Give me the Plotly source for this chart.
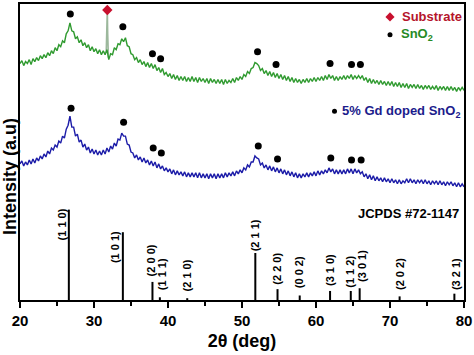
import plotly.graph_objects as go

# ---------------- data ----------------
two_theta = [20 + 0.25 * i for i in range(241)]   # sampling grid, 20..80 deg

green_y = [
    238, 241, 236, 240, 238, 242, 237, 243,
    240, 244, 241, 246, 243, 247, 244, 249,
    246, 251, 248, 254, 251, 257, 255, 261,
    259, 268, 271, 279, 271, 270, 263, 265,
    259, 262, 256, 259, 254, 257, 251, 255,
    250, 253, 248, 252, 247, 251, 247, 252,
    242, 248, 247, 254, 252, 258, 257, 263,
    260, 264, 256, 255, 248, 247, 242, 244,
    239, 242, 237, 240, 235, 239, 234, 238,
    233, 237, 231, 234, 229, 233, 227, 229,
    225, 228, 223, 227, 222, 226, 221, 225,
    221, 225, 220, 224, 220, 225, 220, 224,
    219, 224, 220, 223, 219, 223, 218, 223,
    219, 222, 218, 222, 218, 222, 217, 222,
    218, 221, 219, 223, 219, 224, 221, 225,
    222, 227, 225, 230, 228, 233, 234, 239,
    238, 236, 231, 233, 228, 231, 226, 230,
    225, 229, 224, 228, 223, 227, 222, 226,
    221, 225, 220, 224, 219, 223, 219, 222,
    218, 222, 219, 223, 219, 223, 220, 224,
    220, 224, 221, 225, 221, 226, 222, 227,
    223, 226, 221, 225, 221, 225, 222, 226,
    222, 226, 223, 227, 222, 226, 223, 226,
    223, 226, 221, 224, 219, 223, 218, 222,
    218, 221, 217, 221, 217, 220, 216, 220,
    216, 220, 215, 219, 215, 219, 214, 218,
    214, 218, 213, 217, 214, 217, 213, 217,
    213, 216, 212, 216, 213, 216, 212, 215,
    212, 216, 211, 215, 212, 215, 211, 215,
    211, 215, 211, 214, 210, 214, 211, 214,
    211,
]

blue_y = [
    137, 140, 135, 139, 136, 141, 137, 142,
    138, 143, 140, 145, 142, 147, 144, 150,
    147, 153, 151, 156, 154, 160, 158, 165,
    163, 172, 176, 185, 174, 174, 165, 167,
    159, 161, 154, 157, 151, 154, 148, 152,
    147, 151, 146, 150, 146, 151, 147, 153,
    149, 155, 152, 158, 155, 162, 161, 168,
    165, 165, 157, 156, 149, 148, 143, 146,
    141, 144, 139, 143, 138, 141, 136, 140,
    135, 139, 133, 137, 132, 135, 130, 133,
    129, 132, 127, 131, 126, 130, 126, 129,
    125, 129, 124, 128, 124, 128, 124, 128,
    123, 128, 123, 127, 123, 127, 122, 127,
    123, 127, 122, 127, 123, 127, 123, 128,
    124, 128, 125, 129, 125, 130, 127, 131,
    128, 133, 131, 136, 134, 139, 139, 145,
    143, 142, 136, 138, 133, 136, 131, 135,
    130, 134, 129, 133, 128, 132, 127, 131,
    126, 130, 125, 129, 124, 128, 123, 127,
    123, 127, 124, 128, 124, 128, 125, 129,
    125, 130, 126, 130, 127, 131, 128, 133,
    129, 132, 127, 131, 127, 131, 127, 131,
    127, 132, 128, 132, 127, 132, 128, 131,
    127, 129, 124, 127, 122, 126, 121, 125,
    120, 124, 120, 123, 119, 123, 119, 122,
    118, 122, 118, 121, 117, 121, 117, 120,
    118, 122, 118, 122, 118, 121, 117, 121,
    118, 121, 117, 121, 117, 120, 116, 120,
    117, 120, 116, 120, 116, 119, 115, 119,
    116, 119, 115, 118, 114, 118, 114, 117,
    114,
]

substrate_peak_x = [31.65, 31.75, 31.8, 31.85, 31.95]
substrate_peak_y = [249, 270, 292, 268, 244]

green_dot_x = [26.8, 33.9, 37.9, 39.0, 52.1, 54.6, 61.9, 64.8, 66.0]
green_dot_y = [288, 275, 248, 243, 250, 237, 238, 237, 237]
blue_dot_x = [26.9, 34.0, 38.0, 39.1, 52.2, 54.8, 62.0, 64.8, 66.1]
blue_dot_y = [193, 179, 153, 148, 155, 142, 143, 141, 141]

substrate_x = [31.8]
substrate_y = [292]

jcpds_pos = [26.6, 33.9, 37.9, 38.9, 42.6, 51.8, 54.8, 57.8, 61.9, 64.7, 65.9, 71.3, 78.7]
jcpds_int = [100, 75, 20, 3, 2, 52, 12, 5, 10, 10, 13, 4, 7]
jcpds_hkl = ["(1 1 0)", "(1 0 1)", "(2 0 0)", "(1 1 1)", "(2 1 0)", "(2 1 1)", "(2 2 0)",
             "(0 0 2)", "(3 1 0)", "(1 1 2)", "(3 0 1)", "(2 0 2)", "(3 2 1)"]

x_ticks = [20, 30, 40, 50, 60, 70, 80]

# ---------------- style ----------------
GREEN = "#2f9a2f"
BLUE = "#1c1ca8"
RED = "#c8102e"
FONT = "Liberation Sans, Arial, sans-serif"
stick_scale = 0.91
label_shift = [(-7, -15), (-8, -15), (-2, 22), (2, 23), (0, 23), (0, 18), (0, 20),
               (0, 23), (0, 21), (-1, 19), (3, 22), (1, 22), (1, 20)]

fig = go.Figure()

fig.add_trace(go.Scatter(x=substrate_peak_x, y=substrate_peak_y, mode="lines",
                         line=dict(color="#9cb89c", width=1.6), hoverinfo="skip"))
fig.add_trace(go.Scatter(x=two_theta, y=green_y, mode="lines",
                         line=dict(color=GREEN, width=1.4), hoverinfo="skip"))
fig.add_trace(go.Scatter(x=two_theta, y=blue_y, mode="lines",
                         line=dict(color=BLUE, width=1.4), hoverinfo="skip"))

# JCPDS sticks
sx, sy = [], []
for p, h in zip(jcpds_pos, jcpds_int):
    sx += [p, p, None]
    sy += [0, h * stick_scale, None]
fig.add_trace(go.Scatter(x=sx, y=sy, mode="lines", line=dict(color="black", width=2),
                         hoverinfo="skip"))

fig.add_trace(go.Scatter(x=green_dot_x, y=green_dot_y, mode="markers",
                         marker=dict(color="black", size=7)))
fig.add_trace(go.Scatter(x=blue_dot_x, y=blue_dot_y, mode="markers",
                         marker=dict(color="black", size=7)))
fig.add_trace(go.Scatter(x=substrate_x, y=substrate_y, mode="markers",
                         marker=dict(color=RED, size=8, symbol="diamond")))

# legend-like markers
fig.add_trace(go.Scatter(x=[70.0], y=[285], mode="markers",
                         marker=dict(color=RED, size=7, symbol="diamond")))
fig.add_trace(go.Scatter(x=[70.0], y=[267], mode="markers",
                         marker=dict(color="black", size=5)))
fig.add_trace(go.Scatter(x=[62.5], y=[190], mode="markers",
                         marker=dict(color="black", size=5)))

ann = []
for p, h, t, (dx, dy) in zip(jcpds_pos, jcpds_int, jcpds_hkl, label_shift):
    ann.append(dict(x=p, y=h * stick_scale, text=t, showarrow=False, textangle=-90,
                    xanchor="center", yanchor="middle", xshift=dx, yshift=dy,
                    font=dict(family=FONT, size=11, color="black", weight="bold")))

ann += [
    dict(x=71.35, y=285, text="Substrate", showarrow=False, xanchor="left", yanchor="middle",
         font=dict(family=FONT, size=13, color="#b5152b", weight="bold")),
    dict(x=71.26, y=267, text="SnO<sub>2</sub>", showarrow=False, xanchor="left", yanchor="middle",
         font=dict(family=FONT, size=13, color="#268a26", weight="bold")),
    dict(x=63.28, y=190, text="5% Gd doped SnO<sub>2</sub>", showarrow=False, xanchor="left",
         yanchor="middle", font=dict(family=FONT, size=13, color="#1c1c8c", weight="bold")),
    dict(x=65.47, y=87, text="JCPDS #72-1147", showarrow=False, xanchor="left", yanchor="middle",
         font=dict(family=FONT, size=13, color="black", weight="bold")),
    dict(x=-0.0224, y=0.416, xref="paper", yref="paper", text="Intensity (a.u)", showarrow=False,
         textangle=-90, xanchor="center", yanchor="middle",
         font=dict(family=FONT, size=18, color="black", weight="bold")),
]

fig.update_layout(
    width=474, height=355,
    margin=dict(l=20, r=8, t=2, b=55),
    paper_bgcolor="white", plot_bgcolor="white",
    showlegend=False,
    annotations=ann,
    font=dict(family=FONT, color="black"),
)
fig.update_xaxes(range=[20, 80], tickvals=x_ticks, ticks="outside", ticklen=6, tickwidth=2,
                 tickcolor="black", showline=True, linecolor="black", linewidth=2, mirror=True,
                 showgrid=False, zeroline=False, ticklabeloverflow="allow",
                 minor=dict(dtick=5, ticks="outside", ticklen=4, tickwidth=1.5, tickcolor="black"),
                 tickfont=dict(family=FONT, size=15, color="black", weight="bold"),
                 title=dict(text="2θ (deg)", standoff=6,
                            font=dict(family=FONT, size=18, color="black", weight="bold")))
fig.update_yaxes(range=[0, 298], showticklabels=False, ticks="", showline=True, linecolor="black",
                 linewidth=2, mirror=True, showgrid=False, zeroline=False)

fig.write_html("out.html", config={"displayModeBar": False},
               post_script="document.body.style.margin='0';document.body.style.overflow='hidden';")
